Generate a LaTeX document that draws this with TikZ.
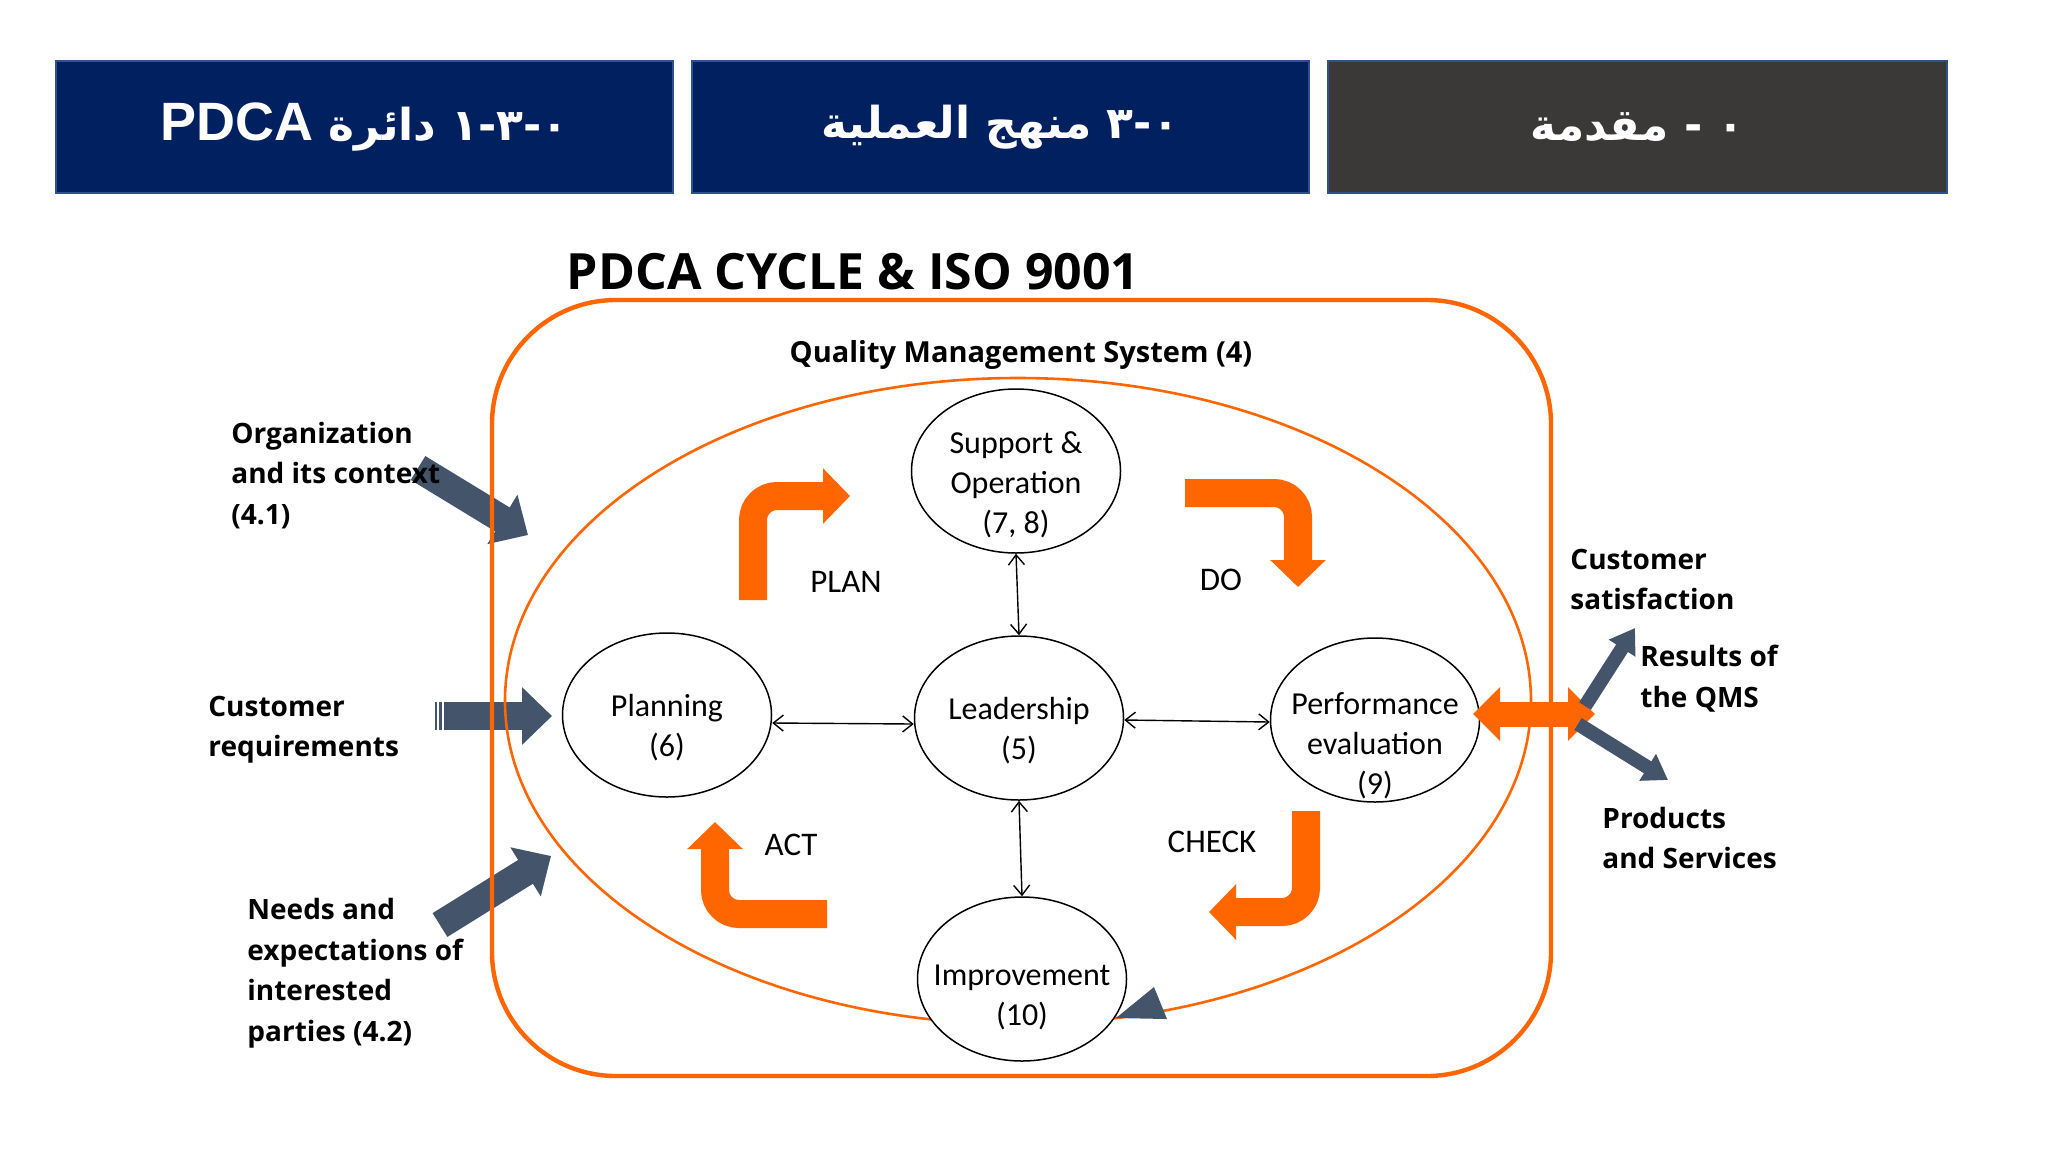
\documentclass[tikz,border=0pt]{standalone}
\usepackage{fontspec}
\usetikzlibrary{shapes.geometric,arrows.meta,calc}
\TeXXeTstate=1
\setmainfont{Open Sans}
\newfontfamily\arabicfont[Script=Arabic]{DejaVu Sans}
\newfontfamily\latinhdr{Liberation Sans}
\newfontfamily\calib{Carlito}
\definecolor{qorange}{HTML}{FF6600}
\definecolor{slate}{HTML}{44546A}
\definecolor{navy}{HTML}{002060}
\definecolor{dgray}{HTML}{3B3838}
\definecolor{edgeblue}{HTML}{2F528F}
\tikzset{
  hdrbox/.style={draw=edgeblue, line width=0.8pt, minimum height=66pt, inner sep=0, text=white},
  blabel/.style={font=\fontsize{14}{20.25}\selectfont\bfseries, align=left, anchor=west, inner sep=0},
  circ/.style={ellipse, draw=black, line width=0.75pt, fill=white, minimum width=104.5pt, minimum height=82pt, inner sep=0},
  ctext/.style={font=\calib\fontsize{16}{20}\selectfont, align=center, inner sep=0},
  conn/.style={line width=0.7pt, {Straight Barb[length=5pt,width=8pt]}-{Straight Barb[length=5pt,width=8pt]}},
  pdcalbl/.style={font=\calib\fontsize{16.5}{20}\selectfont, inner sep=0},
  bent/.style={draw=qorange, line width=14pt, rounded corners=12pt, -{Triangle[length=13.5pt,width=27pt]}},
  gin/.style={draw=slate, line width=14pt, -{Triangle[length=15pt,width=28pt]}},
  gout/.style={draw=slate, line width=7pt, -{Triangle[length=12pt,width=15pt]}},
  arhdr/.style={font=\arabicfont\bfseries\fontsize{22}{26}\selectfont}
}
\begin{document}
\begin{tikzpicture}[x=0.5pt,y=-0.5pt]
\useasboundingbox (0,0) rectangle (2048,1152);
\fill[white] (0,0) rectangle (2048,1152);

% header boxes
\node[hdrbox, fill=navy, minimum width=308.5pt, arhdr] (h1) at (364.5,127)
  {\beginR\hbox{٠}\hbox{-}\hbox{٣}\hbox{-}\hbox{١} دائرة \beginL{\latinhdr\bfseries\fontsize{27}{30}\selectfont PDCA}\endL\endR};
\node[hdrbox, fill=navy, minimum width=308.5pt, arhdr] (h2) at (1000.5,127)
  {\beginR\hbox{٠}\hbox{-}\hbox{٣} منهج العملية\endR};
\node[hdrbox, fill=dgray, minimum width=309.5pt, arhdr] (h3) at (1637.5,127)
  {\beginR\hbox{٠} - مقدمة\endR};

% title
\node[font=\fontsize{25}{30}\selectfont\bfseries, inner sep=0] (title) at (853,272) {PDCA CYCLE \& ISO 9001};

% gray input arrows (under the orange frame)
\coordinate (orgT) at (418,468); \coordinate (orgP) at (528,535);
\coordinate (needT) at (440,925); \coordinate (needP) at (551,856);
\coordinate (reqT) at (444,716); \coordinate (reqP) at (552,716);
\draw[gin] (orgT) -- (orgP);
\draw[gin] (needT) -- (needP);
\draw[gin] (reqT) -- (reqP);
\fill[slate] (435,702) rectangle (437,730);
\fill[slate] (439,702) rectangle (442,730);

% QMS frame and cycle ellipse
\draw[qorange, line width=2.2pt, rounded corners=62pt] (492,300) rectangle (1551,1076);
\node[font=\fontsize{14.5}{18}\selectfont\bfseries, inner sep=0] (qms) at (1021,355) {Quality Management System (4)};
\draw[qorange, line width=1.3pt] (1018,701) ellipse [x radius=513, y radius=323];

% circles
\node[circ] (sup) at (1016,471) {};
\node[circ] (plan) at (667,715) {};
\node[circ] (lead) at (1019,718) {};
\node[circ] (perf) at (1375,720) {};
\node[circ] (imp) at (1022,979) {};
\node[ctext] at ([yshift=-7pt]sup.center) {Support \&\\Operation\\(7, 8)};
\node[ctext] at ([yshift=-6.5pt]plan.center) {Planning\\(6)};
\node[ctext] at ([yshift=-6.5pt]lead.center) {Leadership\\(5)};
\node[ctext] at ([yshift=-13pt]perf.center) {Performance\\evaluation\\(9)};
\node[ctext] at ([yshift=-9pt]imp.center) {Improvement\\(10)};

% connectors
\draw[conn] (sup.south) -- (lead.north);
\draw[conn] (lead.south) -- (imp.north);
\draw[conn] ([yshift=-4pt]plan.east) -- ([yshift=-3pt]lead.west);
\draw[conn] ([yshift=-1pt]lead.east) -- ([yshift=-1pt]perf.west);

% arrowhead of the cycle at Improvement
\fill[slate] (1116,1018) -- (1154,987) -- (1167,1019) -- cycle;

% PDCA bent arrows
\coordinate (plA) at (753,600); \coordinate (plB) at (850,496);
\coordinate (doA) at (1185,493); \coordinate (doB) at (1298,587);
\coordinate (acA) at (827,914); \coordinate (acB) at (715,822);
\coordinate (chA) at (1306,811); \coordinate (chB) at (1209,912);
\draw[bent] (plA) |- (plB);
\draw[bent] (doA) -| (doB);
\draw[bent] (acA) -| (acB);
\draw[bent] (chA) |- (chB);
\node[pdcalbl] (lplan) at (846,582) {PLAN};
\node[pdcalbl] (ldo) at (1221,580) {DO};
\node[pdcalbl] (lact) at (791,845) {ACT};
\node[pdcalbl] (lcheck) at (1212,842) {CHECK};

% outputs
\coordinate (dblL) at (1473,714); \coordinate (dblR) at (1595,714);
\draw[qorange, line width=12.5pt, {Triangle[length=13.5pt,width=26pt]}-{Triangle[length=13.5pt,width=26pt]}] (dblL) -- (dblR);
\coordinate (upT) at (1585,706); \coordinate (upP) at (1635,628);
\coordinate (dnT) at (1578,724); \coordinate (dnP) at (1668,780);
\draw[gout] (upT) -- (upP);
\draw[gout] (dnT) -- (dnP);

% side labels
\node[blabel] (lorg) at (231,475.5) {Organization\\and its context\\(4.1)};
\node[blabel] (lreq) at (208,729.5) {Customer\\requirements};
\node[blabel] (lneed) at (247,973) {Needs and\\expectations of\\interested\\parties (4.2)};
\node[blabel] (lsat) at (1570,579.5) {Customer\\satisfaction};
\node[blabel] (lres) at (1640,678.5) {Results of\\the QMS};
\node[blabel] (lprod) at (1602,838) {Products\\and Services};
\end{tikzpicture}
\end{document}
